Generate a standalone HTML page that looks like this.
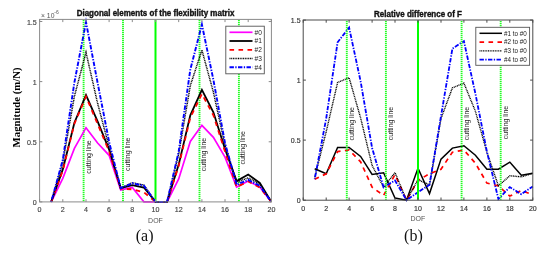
<!DOCTYPE html>
<html lang="en">
<head>
<meta charset="utf-8">
<title>Flexibility matrix plots</title>
<style>
html,body{margin:0;padding:0;background:#fff;}
body{width:550px;height:253px;overflow:hidden;}
svg{display:block;}
</style>
</head>
<body>
<svg width="550" height="253" viewBox="0 0 550 253">
<rect width="550" height="253" fill="#fff"/>

<!-- plot (a) -->
<line x1="83.6" y1="20.0" x2="83.6" y2="201.4" stroke="#22ff22" stroke-width="1.9" stroke-dasharray="1.25 0.75"/>
<line x1="123.0" y1="20.0" x2="123.0" y2="201.4" stroke="#22ff22" stroke-width="1.9" stroke-dasharray="1.25 0.75"/>
<line x1="199.5" y1="20.0" x2="199.5" y2="201.4" stroke="#22ff22" stroke-width="1.9" stroke-dasharray="1.25 0.75"/>
<line x1="238.9" y1="20.0" x2="238.9" y2="201.4" stroke="#22ff22" stroke-width="1.9" stroke-dasharray="1.25 0.75"/>
<line x1="155.5" y1="19.9" x2="155.5" y2="201.4" stroke="#00ff00" stroke-width="2"/>
<polyline fill="none" stroke-linejoin="miter" stroke-miterlimit="10" stroke="#ff00ff" stroke-width="1.7" points="51.2,201.9 62.8,178.4 74.4,148.4 86.0,127.7 97.6,143.0 109.1,155.3 120.7,189.9 132.3,187.5 143.9,201.9 155.5,201.9 167.1,201.9 178.7,179.0 190.3,141.4 201.9,125.3 213.4,137.3 225.0,157.1 236.6,187.1 248.2,181.1 259.8,187.1 271.4,201.9"/>
<polyline fill="none" stroke-linejoin="miter" stroke-miterlimit="10" stroke="#000" stroke-width="1.8" points="51.2,201.9 62.8,169.4 74.4,122.7 86.0,95.1 97.6,121.3 109.1,149.6 120.7,188.1 132.3,185.1 143.9,187.5 155.5,201.9 167.1,201.9 178.7,164.6 190.3,115.3 201.9,89.9 213.4,112.3 225.0,149.0 236.6,181.1 248.2,174.5 259.8,182.9 271.4,201.9"/>
<polyline fill="none" stroke-linejoin="miter" stroke-miterlimit="10" stroke="#ff0000" stroke-width="1.8" stroke-dasharray="4.6 4.4" points="51.2,201.9 62.8,170.6 74.4,123.7 86.0,96.5 97.6,123.9 109.1,151.4 120.7,188.7 132.3,189.3 143.9,192.3 155.5,201.9 167.1,201.9 178.7,165.8 190.3,117.7 201.9,93.9 213.4,115.3 225.0,151.4 236.6,187.1 248.2,181.4 259.8,187.5 271.4,201.9"/>
<polyline fill="none" stroke-linejoin="miter" stroke-miterlimit="10" stroke="#000" stroke-width="1.5" stroke-dasharray="1 0.7" points="51.2,201.9 62.8,162.2 74.4,96.3 86.0,52.4 97.6,103.3 109.1,146.9 120.7,188.1 132.3,182.7 143.9,185.1 155.5,201.9 167.1,201.9 178.7,153.8 190.3,85.6 201.9,50.1 213.4,92.2 225.0,145.4 236.6,182.3 248.2,177.8 259.8,184.1 271.4,201.9"/>
<polyline fill="none" stroke-linejoin="miter" stroke-miterlimit="10" stroke="#0000ff" stroke-width="1.9" stroke-dasharray="4.4 1.4 1.3 1.4" stroke-dashoffset="5.82" points="51.2,201.9 62.8,159.8 74.4,82.4 86.0,22.1 97.6,82.8 109.1,141.8 120.7,188.1 132.3,183.3 143.9,185.7 155.5,201.9"/>
<polyline fill="none" stroke-linejoin="miter" stroke-miterlimit="10" stroke="#0000ff" stroke-width="1.9" stroke-dasharray="4.4 1.4 1.3 1.4" stroke-dashoffset="5.07" points="155.5,201.9 167.1,201.9 178.7,151.4 190.3,69.6 201.9,24.5 213.4,79.9 225.0,143.0 236.6,184.7 248.2,179.9 259.8,185.9 271.4,201.9"/>
<path d="M39.6 201.9V199.2M39.6 19.4V22.1M62.8 201.9V199.2M62.8 19.4V22.1M86.0 201.9V199.2M86.0 19.4V22.1M109.1 201.9V199.2M109.1 19.4V22.1M132.3 201.9V199.2M132.3 19.4V22.1M155.5 201.9V199.2M155.5 19.4V22.1M178.7 201.9V199.2M178.7 19.4V22.1M201.9 201.9V199.2M201.9 19.4V22.1M225.0 201.9V199.2M225.0 19.4V22.1M248.2 201.9V199.2M248.2 19.4V22.1M271.4 201.9V199.2M271.4 19.4V22.1M39.6 201.9H42.3M271.4 201.9H268.7M39.6 141.8H42.3M271.4 141.8H268.7M39.6 81.6H42.3M271.4 81.6H268.7M39.6 21.5H42.3M271.4 21.5H268.7" stroke="#8a8a8a" stroke-width="1" fill="none"/>
<rect x="39.6" y="19.4" width="231.8" height="182.5" fill="none" stroke="#8a8a8a" stroke-width="1"/>
<g font-family="'Liberation Sans', Arial, sans-serif" font-size="7.1" fill="#444" stroke="#444" stroke-width="0.15"><text x="39.6" y="212.0" text-anchor="middle">0</text><text x="62.8" y="212.0" text-anchor="middle">2</text><text x="86.0" y="212.0" text-anchor="middle">4</text><text x="109.1" y="212.0" text-anchor="middle">6</text><text x="132.3" y="212.0" text-anchor="middle">8</text><text x="155.5" y="212.0" text-anchor="middle">10</text><text x="178.7" y="212.0" text-anchor="middle">12</text><text x="201.9" y="212.0" text-anchor="middle">14</text><text x="225.0" y="212.0" text-anchor="middle">16</text><text x="248.2" y="212.0" text-anchor="middle">18</text><text x="271.4" y="212.0" text-anchor="middle">20</text><text x="36.8" y="204.9" text-anchor="end">0</text><text x="36.8" y="144.8" text-anchor="end">0.5</text><text x="36.8" y="84.6" text-anchor="end">1</text><text x="36.8" y="24.5" text-anchor="end">1.5</text></g>
<g font-family="'Liberation Sans', Arial, sans-serif" font-size="7" fill="#222"><text transform="translate(90.6 173.7) rotate(-90)">cutting line</text><text transform="translate(129.7 171.0) rotate(-90)">cutting line</text><text transform="translate(206.3 171.2) rotate(-90)">cutting line</text><text transform="translate(245.3 164.6) rotate(-90)">cutting line</text></g>
<text transform="translate(155.5 15.8) scale(1 1.06)" text-anchor="middle" font-family="'Liberation Sans', Arial, sans-serif" font-weight="bold" font-size="8" fill="#111" stroke="#111" stroke-width="0.35">Diagonal elements of the flexibility matrix</text>
<g font-family="'Liberation Sans', Arial, sans-serif" fill="#555"><text x="41" y="17.6" font-size="6.8">× 10</text><text x="54.3" y="14.4" font-size="5">-6</text></g>
<text x="155.5" y="222.6" text-anchor="middle" font-family="'Liberation Sans', Arial, sans-serif" font-size="7" fill="#555">DOF</text>
<text transform="translate(20.1 147.4) rotate(-90)" font-family="'Liberation Serif', 'Times New Roman', serif" font-weight="bold" font-size="10.8" fill="#000">Magnitude (m/N)</text>
<text x="144.6" y="240.9" text-anchor="middle" font-family="'Liberation Serif', 'Times New Roman', serif" font-size="16" fill="#111">(a)</text>
<rect x="225.8" y="26.2" width="38.5" height="47.6" fill="#fff" stroke="#555" stroke-width="0.9"/>
<line x1="229.5" y1="32.3" x2="252.5" y2="32.3" stroke="#ff00ff" stroke-width="1.7"/>
<text x="254.6" y="34.7" font-family="'Liberation Sans', Arial, sans-serif" font-size="6.6" fill="#222">#0</text>
<line x1="229.5" y1="41.0" x2="252.5" y2="41.0" stroke="#000" stroke-width="1.8"/>
<text x="254.6" y="43.4" font-family="'Liberation Sans', Arial, sans-serif" font-size="6.6" fill="#222">#1</text>
<line x1="229.5" y1="49.8" x2="252.5" y2="49.8" stroke="#ff0000" stroke-width="1.8" stroke-dasharray="4.6 4.4"/>
<text x="254.6" y="52.2" font-family="'Liberation Sans', Arial, sans-serif" font-size="6.6" fill="#222">#2</text>
<line x1="229.5" y1="58.6" x2="252.5" y2="58.6" stroke="#000" stroke-width="1.5" stroke-dasharray="1 0.7"/>
<text x="254.6" y="61.0" font-family="'Liberation Sans', Arial, sans-serif" font-size="6.6" fill="#222">#3</text>
<line x1="229.5" y1="67.3" x2="252.5" y2="67.3" stroke="#0000ff" stroke-width="1.9" stroke-dasharray="4.4 1.4 1.3 1.4"/>
<text x="254.6" y="69.7" font-family="'Liberation Sans', Arial, sans-serif" font-size="6.6" fill="#222">#4</text>
<!-- plot (b) -->
<polyline fill="none" stroke-linejoin="miter" stroke-miterlimit="10" stroke="#000" stroke-width="1.5" points="314.7,168.7 326.2,173.8 337.6,147.4 349.1,147.4 360.6,156.4 372.1,174.5 383.6,172.8 395.0,198.0 406.5,200.2 418.0,168.3 429.5,193.6 441.0,159.1 452.4,148.1 463.9,145.7 475.4,155.2 486.9,169.2 498.4,169.2 509.8,162.1 521.3,175.3 532.8,173.3"/>
<polyline fill="none" stroke-linejoin="miter" stroke-miterlimit="10" stroke="#ff0000" stroke-width="1.7" stroke-dasharray="4.6 4.4" points="314.7,179.2 326.2,173.8 337.6,151.6 349.1,150.0 360.6,161.8 372.1,187.2 383.6,195.4 395.0,174.6 406.5,200.2 418.0,180.4 429.5,173.8 441.0,169.2 452.4,152.2 463.9,150.0 475.4,163.2 486.9,183.1 498.4,185.8 509.8,196.1 521.3,190.6 532.8,194.8"/>
<polyline fill="none" stroke-linejoin="miter" stroke-miterlimit="10" stroke="#000" stroke-width="1.4" stroke-dasharray="1 0.7" points="314.7,177.4 326.2,131.7 337.6,82.5 349.1,77.7 360.6,117.9 372.1,165.4 383.6,187.3 395.0,172.6 406.5,200.2 418.0,179.8 429.5,184.8 441.0,118.5 452.4,87.9 463.9,83.1 475.4,111.3 486.9,152.2 498.4,185.8 509.8,175.8 521.3,176.8 532.8,173.3"/>
<polyline fill="none" stroke-linejoin="miter" stroke-miterlimit="10" stroke="#0000ff" stroke-width="1.8" stroke-dasharray="4.4 1.4 1.3 1.4" stroke-dashoffset="6.24" points="314.7,179.2 326.2,118.5 337.6,42.3 349.1,27.6 360.6,81.3 372.1,148.0 383.6,187.3 395.0,180.4 406.5,200.2 418.0,192.2"/>
<polyline fill="none" stroke-linejoin="miter" stroke-miterlimit="10" stroke="#0000ff" stroke-width="1.8" stroke-dasharray="4.4 1.4 1.3 1.4" stroke-dashoffset="6.72" points="418.0,192.2 429.5,184.8 441.0,116.1 452.4,48.6 463.9,41.1 475.4,93.6 486.9,151.6 498.4,199.0 509.8,187.1 521.3,194.2 532.8,186.4"/>
<line x1="346.8" y1="21.0" x2="346.8" y2="199.7" stroke="#22ff22" stroke-width="1.9" stroke-dasharray="1.25 0.75"/>
<line x1="385.9" y1="21.0" x2="385.9" y2="199.7" stroke="#22ff22" stroke-width="1.9" stroke-dasharray="1.25 0.75"/>
<line x1="461.6" y1="21.0" x2="461.6" y2="199.7" stroke="#22ff22" stroke-width="1.9" stroke-dasharray="1.25 0.75"/>
<line x1="500.7" y1="21.0" x2="500.7" y2="199.7" stroke="#22ff22" stroke-width="1.9" stroke-dasharray="1.25 0.75"/>
<line x1="418.0" y1="20.5" x2="418.0" y2="199.7" stroke="#00ff00" stroke-width="2"/>
<path d="M303.2 200.2V197.5M303.2 20.0V22.7M326.2 200.2V197.5M326.2 20.0V22.7M349.1 200.2V197.5M349.1 20.0V22.7M372.1 200.2V197.5M372.1 20.0V22.7M395.0 200.2V197.5M395.0 20.0V22.7M418.0 200.2V197.5M418.0 20.0V22.7M441.0 200.2V197.5M441.0 20.0V22.7M463.9 200.2V197.5M463.9 20.0V22.7M486.9 200.2V197.5M486.9 20.0V22.7M509.8 200.2V197.5M509.8 20.0V22.7M532.8 200.2V197.5M532.8 20.0V22.7M303.2 200.2H305.9M532.8 200.2H530.1M303.2 140.1H305.9M532.8 140.1H530.1M303.2 80.1H305.9M532.8 80.1H530.1M303.2 20.1H305.9M532.8 20.1H530.1" stroke="#4a4a4a" stroke-width="1" fill="none"/>
<rect x="303.2" y="20.0" width="229.6" height="180.2" fill="none" stroke="#4a4a4a" stroke-width="1"/>
<g font-family="'Liberation Sans', Arial, sans-serif" font-size="7" fill="#333" stroke="#333" stroke-width="0.15"><text x="303.2" y="210.6" text-anchor="middle">0</text><text x="326.2" y="210.6" text-anchor="middle">2</text><text x="349.1" y="210.6" text-anchor="middle">4</text><text x="372.1" y="210.6" text-anchor="middle">6</text><text x="395.0" y="210.6" text-anchor="middle">8</text><text x="418.0" y="210.6" text-anchor="middle">10</text><text x="441.0" y="210.6" text-anchor="middle">12</text><text x="463.9" y="210.6" text-anchor="middle">14</text><text x="486.9" y="210.6" text-anchor="middle">16</text><text x="509.8" y="210.6" text-anchor="middle">18</text><text x="532.8" y="210.6" text-anchor="middle">20</text><text x="300.6" y="203.3" text-anchor="end">0</text><text x="300.6" y="143.2" text-anchor="end">0.5</text><text x="300.6" y="83.2" text-anchor="end">1</text><text x="300.6" y="23.2" text-anchor="end">1.5</text></g>
<g font-family="'Liberation Sans', Arial, sans-serif" font-size="7" fill="#222"><text transform="translate(354.0 140.5) rotate(-90)">cutting line</text><text transform="translate(393.0 140.2) rotate(-90)">cutting line</text><text transform="translate(468.9 140.2) rotate(-90)">cutting line</text><text transform="translate(508.2 139.2) rotate(-90)">cutting line</text></g>
<text transform="translate(418 16.8) scale(1 1.06)" text-anchor="middle" font-family="'Liberation Sans', Arial, sans-serif" font-weight="bold" font-size="8" fill="#111" stroke="#111" stroke-width="0.35">Relative difference of F</text>
<text x="417.8" y="220.9" text-anchor="middle" font-family="'Liberation Sans', Arial, sans-serif" font-size="7" fill="#555">DOF</text>
<text x="413.4" y="240.9" text-anchor="middle" font-family="'Liberation Serif', 'Times New Roman', serif" font-size="16" fill="#111">(b)</text>
<rect x="475.8" y="27.3" width="53.8" height="38" fill="#fff" stroke="#555" stroke-width="0.9"/>
<line x1="479.5" y1="33.3" x2="502" y2="33.3" stroke="#000" stroke-width="1.5"/>
<text x="503.9" y="35.6" font-family="'Liberation Sans', Arial, sans-serif" font-size="6.3" fill="#222">#1 to #0</text>
<line x1="479.5" y1="42.1" x2="502" y2="42.1" stroke="#ff0000" stroke-width="1.7" stroke-dasharray="4.6 4.4"/>
<text x="503.9" y="44.4" font-family="'Liberation Sans', Arial, sans-serif" font-size="6.3" fill="#222">#2 to #0</text>
<line x1="479.5" y1="50.9" x2="502" y2="50.9" stroke="#000" stroke-width="1.4" stroke-dasharray="1 0.7"/>
<text x="503.9" y="53.2" font-family="'Liberation Sans', Arial, sans-serif" font-size="6.3" fill="#222">#3 to #0</text>
<line x1="479.5" y1="59.6" x2="502" y2="59.6" stroke="#0000ff" stroke-width="1.8" stroke-dasharray="4.4 1.4 1.3 1.4"/>
<text x="503.9" y="61.9" font-family="'Liberation Sans', Arial, sans-serif" font-size="6.3" fill="#222">#4 to #0</text>
</svg>
</body>
</html>
